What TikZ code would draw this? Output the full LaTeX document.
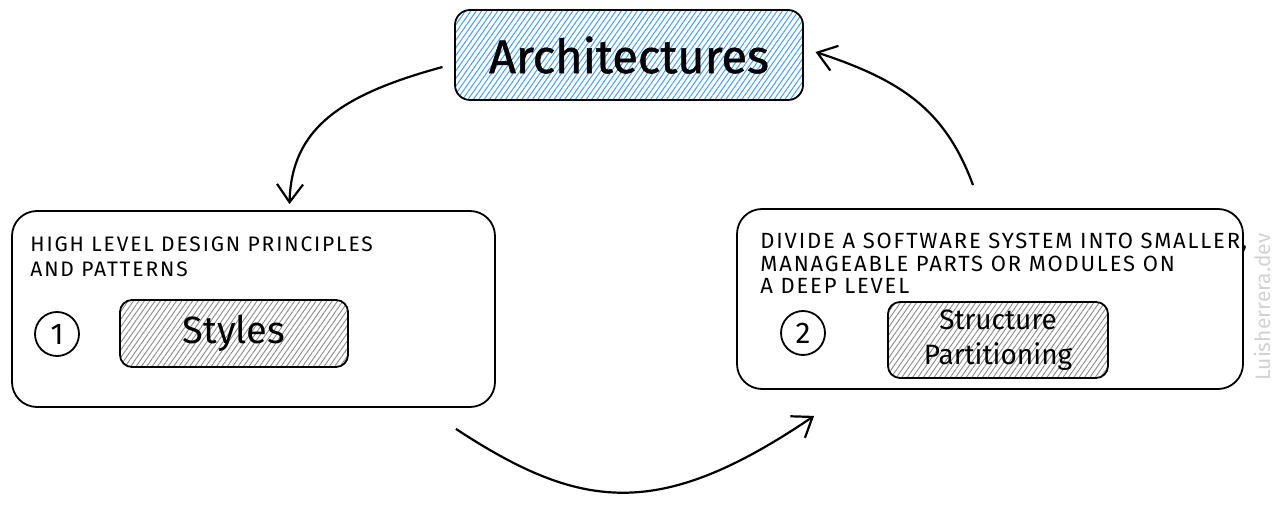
\documentclass[tikz,border=0pt]{standalone}
\usepackage{fontspec}
\setmainfont{Fira Sans}
\usetikzlibrary{arrows.meta,patterns.meta}
\definecolor{hatchblue}{HTML}{4A9EEA}
\definecolor{hatchgray}{HTML}{8A8A8A}
\tikzset{
	sketchbox/.style={draw=black,line width=0.9pt,rounded corners=12.5pt,inner sep=0pt},
	bluehatch/.style={pattern={Lines[angle=55,distance=2.2pt,line width=0.5pt]},pattern color=hatchblue},
	grayhatch/.style={pattern={Lines[angle=55,distance=2.2pt,line width=0.45pt]},pattern color=hatchgray},
	caption/.style={anchor=north west,align=left,inner sep=0pt},
	stepnum/.style={draw,circle,line width=0.9pt,minimum size=22pt,inner sep=0pt,font=\fontsize{15}{15}\selectfont},
	flow/.style={line width=1.1pt,-{Straight Barb[length=9pt,width=13pt]}}
}
\begin{document}
\begin{tikzpicture}[x=0.5pt,y=-0.5pt]
		\useasboundingbox (0,0) rectangle (1285,507);
		\node[sketchbox,bluehatch,rounded corners=7.5pt,minimum width=174pt,minimum height=45pt,font=\fontsize{23.5}{23.5}\selectfont\addfontfeature{FakeBold=1}] (arch) at (629,55) {Architectures};
		\node[sketchbox,minimum width=241.5pt,minimum height=98pt] (lbox) at (253.5,309) {};
		\node[sketchbox,minimum width=253pt,minimum height=90pt] (rbox) at (990,299) {};
		\node[caption,font=\fontsize{10.5}{12.5}\selectfont\addfontfeature{LetterSpace=8.8}] (ltext) at (30,236) {HIGH LEVEL DESIGN PRINCIPLES\\AND PATTERNS};
		\node[caption,font=\fontsize{11}{11.25}\selectfont\addfontfeature{LetterSpace=8.3}] (rtext) at (760,233) {DIVIDE A SOFTWARE SYSTEM INTO SMALLER,\\MANAGEABLE PARTS OR MODULES ON\\A DEEP LEVEL};
		\node[stepnum] (one) at (57,334) {1};
		\node[stepnum] (two) at (803,333) {2};
		\node[sketchbox,grayhatch,rounded corners=6pt,minimum width=114pt,minimum height=33.5pt,font=\fontsize{19}{19}\selectfont] (styles) at (234,333.5) {Styles};
		\node[sketchbox,grayhatch,rounded corners=6pt,minimum width=110pt,minimum height=38pt,align=center,font=\fontsize{14}{17.5}\selectfont] (struct) at (998,340) {Structure\\Partitioning};
		\node[rotate=90,text=gray!35,font=\fontsize{10.5}{10.5}\selectfont] (mark) at (1262,307) {Luisherrera.dev};
		\draw[flow] ([xshift=-6pt,yshift=-6pt]arch.west) .. controls +(-103,28) and +(2,-75) .. ([xshift=18pt,yshift=3pt]lbox.north);
		\draw[flow] ([xshift=-8.5pt,yshift=11.5pt]rbox.north) .. controls +(-28,-76) and +(85,28) .. ([xshift=6pt,yshift=1.5pt]arch.east);
		\draw[flow] ([xshift=-20pt,yshift=-10.5pt]lbox.south east) .. controls +(125,82) and +(-155,105) .. ([xshift=39pt,yshift=-13pt]rbox.south west);
\end{tikzpicture}
\end{document}
